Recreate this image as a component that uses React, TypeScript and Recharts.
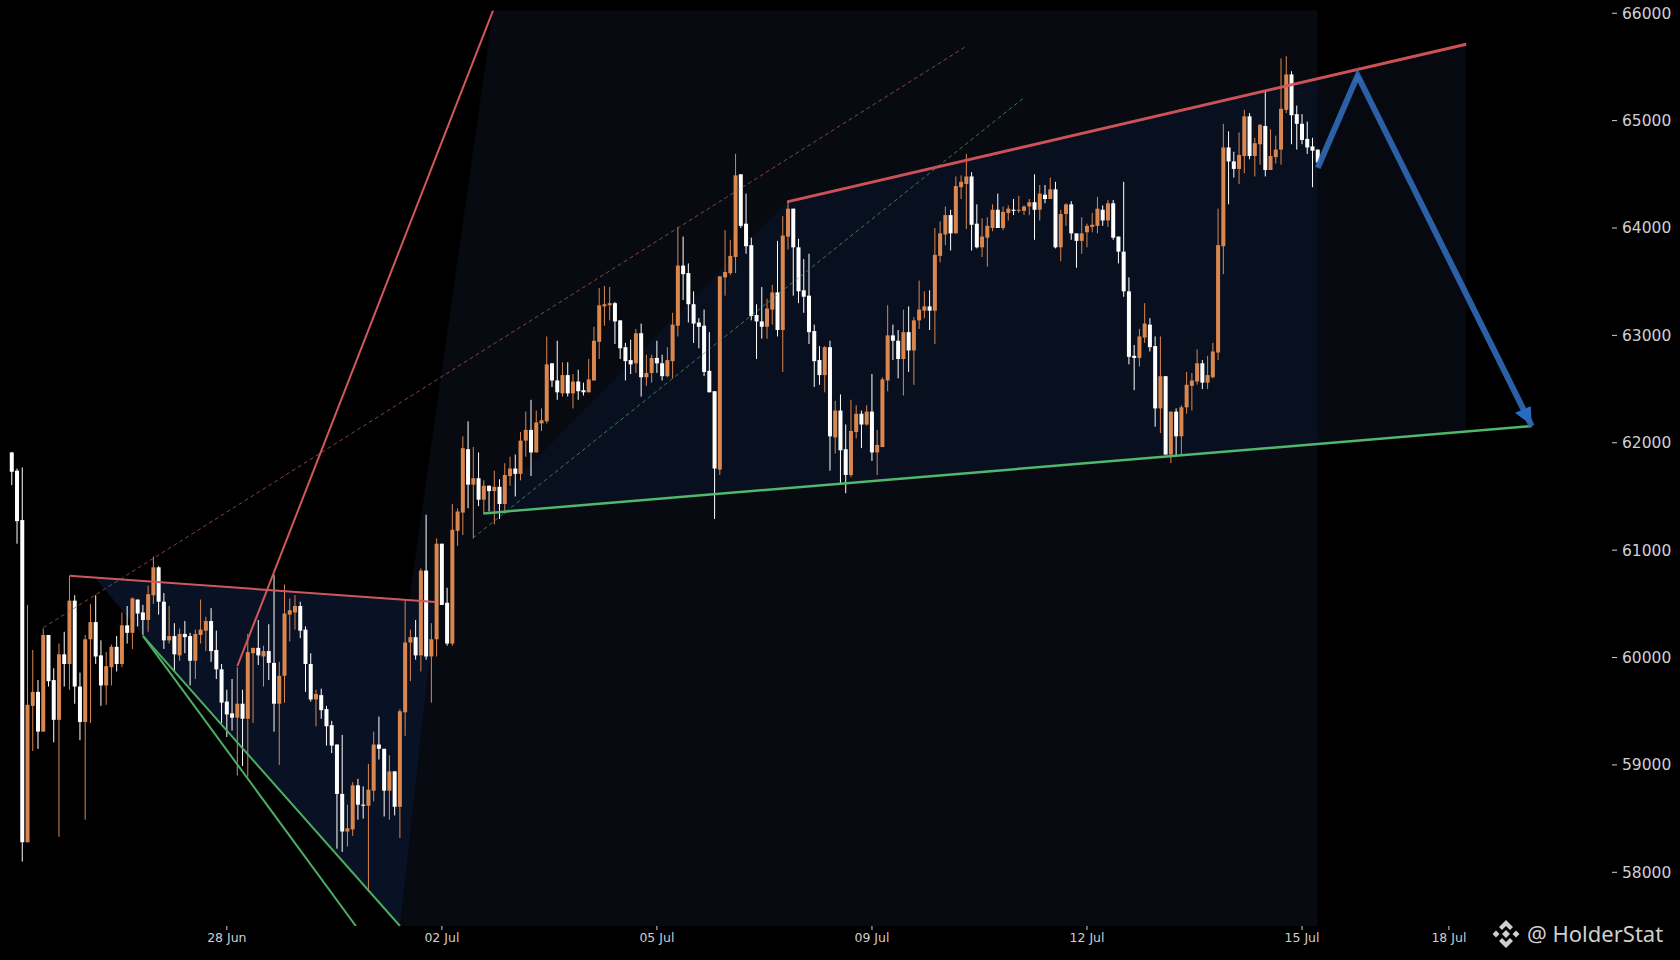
import React from "react";
import { ComposedChart, XAxis, YAxis, Bar, Line, Area } from "recharts";

const OPENS = [
  61910,61740,61280,58280,59550,59680,59310,60210,59790,59420,
  60030,59940,60530,59730,59400,60170,60330,60020,59740,59910,
  60100,59940,60300,60230,60540,60420,60350,60580,60840,60520,
  60160,60200,60020,60220,60200,59970,60210,60250,60340,60070,
  59890,59590,59480,59440,59570,59430,60040,60090,60010,60060,
  59950,59570,59830,60400,60420,60480,60260,59940,59610,59650,
  59520,59370,59190,58730,58380,58400,58810,58630,58620,58760,
  59190,59150,58760,58940,58610,59490,60140,60190,60020,60810,
  60010,60170,61060,60510,60130,61180,61350,61940,61610,61670,
  61470,61600,61550,61590,61430,61690,61760,61710,62020,62120,
  61910,62180,62200,62740,62580,62460,62630,62460,62570,62490,
  62470,62580,62940,63270,63280,63300,63140,62890,62770,62740,
  63020,62610,62650,62790,62740,62620,62760,63090,63650,63580,
  63290,63120,63090,62670,62480,61750,63540,63580,63730,64500,
  64040,63840,63190,63130,63080,63240,63400,63050,63920,64180,
  63820,63420,63370,63040,62770,62630,62890,62050,62300,61940,
  61700,62100,62270,62170,62290,61910,61960,62580,63000,62950,
  62780,63030,62860,63140,63230,63270,63230,63740,63940,64120,
  63950,64380,64410,64480,64040,63820,63910,64000,64170,64000,
  64140,64170,64160,64160,64200,64240,64170,64310,64270,64360,
  63820,64130,64220,63950,63880,63960,64010,64020,64170,64070,
  64230,63920,63780,63410,62810,62790,62980,63100,62900,62320,
  62620,61890,62290,62060,62330,62530,62570,62740,62560,62610,
  62840,63830,64750,64620,64550,64670,65040,64670,64780,64950,
  64540,64660,64730,65100,65430,65060,64970,64830,64760,64730,
];

const HIGHS = [
  61915,61760,61770,60490,60070,59790,60270,60210,59900,60130,
  60240,60760,60580,59860,60210,60500,60580,60160,60050,60120,
  60200,60420,60480,60560,60540,60490,60670,60940,60850,60600,
  60480,60320,60270,60340,60230,60260,60540,60380,60460,60250,
  59940,59700,59800,59910,59700,60220,60090,60350,60110,60310,
  60770,59960,60680,60550,60580,60520,60290,60040,59700,59710,
  59550,59410,59190,59280,58630,58840,58870,58800,59010,59310,
  59450,59150,59090,58940,59520,60530,60260,60350,60830,61330,
  60320,61110,61060,60650,61430,61390,62060,62200,61960,61910,
  61650,61600,61740,61660,61810,61870,61890,62100,62290,62400,
  62300,62320,62990,62740,62950,62750,62750,62640,62680,62560,
  62780,63080,63440,63460,63450,63310,63140,62930,62960,63060,
  63110,62820,62820,62950,62820,62890,63210,64010,63920,63670,
  63410,63160,63240,63030,62480,63550,63980,63890,64690,64500,
  64320,63910,63290,63450,63340,63470,63880,64110,64250,64180,
  63900,63710,63760,63100,62900,62900,62950,62390,62450,62170,
  62400,62350,62300,62350,62640,62120,62610,63280,63100,63050,
  63240,63270,63170,63510,63410,63420,64000,64060,64200,64170,
  64480,64490,64690,64520,64220,64090,64100,64220,64320,64200,
  64210,64270,64300,64210,64270,64500,64400,64400,64470,64430,
  64170,64230,64250,63950,64100,64040,64140,64290,64210,64260,
  64260,63920,64430,63540,62910,63060,63300,63160,62990,62990,
  62620,62290,62320,62350,62660,62650,62870,62770,62810,62930,
  64180,64970,64900,64710,64890,65100,65070,64840,64970,65280,
  64920,64860,65580,65600,65460,65140,65060,64990,64840,64730,
];

const LOWS = [
  61605,61060,58100,58280,59130,59150,59310,59730,59210,58330,
  59730,59700,59570,59230,58490,59390,59940,59550,59560,59740,
  59870,59910,60130,60080,60290,60210,60240,60500,60400,60080,
  60130,59870,59970,60040,59740,59800,60130,60060,59960,59800,
  59390,59260,59320,58900,58990,58890,59390,59930,59730,59790,
  59310,59000,59580,60150,60260,60180,59680,59590,59360,59430,
  59180,59110,58220,58190,58240,58340,58490,58500,57820,58660,
  59050,58520,58490,58530,58320,59270,59780,59980,59870,59980,
  59580,60010,60490,60110,60110,61040,61140,61390,61110,61410,
  61340,61360,61240,61290,61340,61600,61500,61650,61870,61690,
  61910,62110,62180,62520,62400,62430,62430,62320,62400,62440,
  62470,62580,62780,63090,63140,62920,62780,62580,62640,62650,
  62430,62530,62560,62650,62580,62610,62600,62990,63330,63120,
  62930,62880,62620,62470,61290,61700,63370,63560,63580,64000,
  63760,63140,62780,62970,62970,63100,62990,62660,63800,63370,
  63300,63210,62920,62520,62540,62470,61740,61900,61620,61530,
  61680,62040,61950,62160,61830,61700,61960,62480,62770,62600,
  62440,62660,62540,63060,63160,63050,62920,63680,63840,63790,
  63950,64270,63990,63790,63810,63730,63640,63970,64000,63980,
  64070,64120,64140,64120,64120,63890,64070,64230,64270,63810,
  63690,64020,63890,63630,63760,63820,63960,63950,64020,64010,
  63890,63670,63360,62730,62490,62710,62930,62850,62150,62090,
  61890,61810,61880,61890,62270,62300,62540,62500,62500,62600,
  62770,63570,64220,64470,64410,64510,64640,64480,64590,64480,
  64540,64600,64590,65070,64780,64730,64780,64690,64380,64570,
];

const CLOSES = [
  61730,61270,58280,59560,59680,59310,60210,59780,59420,60030,
  59940,60530,59730,59400,60170,60330,60010,59740,59920,60100,
  59940,60300,60230,60550,60410,60350,60590,60840,60520,60160,
  60200,60030,60220,60190,59970,60220,60260,60340,60060,59890,
  59580,59470,59440,59570,59430,60050,60090,60020,60060,59950,
  59570,59830,60410,60440,60480,60250,59940,59610,59660,59510,
  59360,59180,58730,58380,58410,58810,58630,58620,58770,59190,
  59150,58760,58940,58610,59500,60140,60190,60020,60810,60010,
  60170,61060,60490,60130,61190,61360,61950,61610,61670,61470,
  61600,61550,61590,61430,61700,61760,61710,62020,62120,61910,
  62190,62210,62730,62580,62470,62630,62460,62570,62480,62470,
  62590,62950,63280,63290,63300,63130,62880,62760,62730,63020,
  62610,62650,62790,62740,62620,62770,63100,63650,63570,63290,
  63110,63080,62660,62470,61760,63550,63590,63740,64490,64020,
  63830,63180,63130,63080,63250,63400,63050,63930,64180,63820,
  63410,63360,63030,62760,62630,62890,62060,62300,61930,61700,
  62110,62270,62170,62290,61910,61980,62590,63000,62950,62780,
  63030,62860,63140,63240,63270,63230,63750,63950,64120,63950,
  64390,64430,64480,64030,63820,63920,64020,64170,64000,64150,
  64180,64160,64170,64200,64240,64170,64320,64270,64360,63820,
  64130,64220,63950,63880,63950,64020,64030,64180,64070,64230,
  63910,63780,63410,62800,62790,62990,63110,62890,62320,62620,
  61890,62290,62060,62330,62540,62580,62740,62560,62630,62850,
  63840,64750,64620,64550,64680,65040,64670,64790,64960,64540,
  64670,64730,65110,65430,65050,64970,64820,64750,64720,64610,
];

const TICK_INDEX = [41, 82, 123, 164, 205, 246, 274];
const TICK_LABELS = ["28 Jun", "02 Jul", "05 Jul", "09 Jul", "12 Jul", "15 Jul", "18 Jul"];
const PRICE_TICKS = [58000, 59000, 60000, 61000, 62000, 63000, 64000, 65000, 66000];

// trend lines, as [candle index, price]
const STEEP_RED = [[43, 59920], [91.75, 66025]];
const WEDGE_TOP = [[11, 60761], [80.8, 60518]];
const WEDGE_LOW_A = [[25, 60202], [74, 57500]];
const WEDGE_LOW_B = [[25, 60202], [65.6, 57500]];
const DASH_RED = [[6, 60278], [182.1, 65696]];
const DASH_GREEN = [[87.9, 61112], [192.8, 65206]];
const CHANNEL_TOP = [[147.8, 64243], [277.3, 65711]];
const CHANNEL_LOW = [[89.9, 61342], [289.8, 62155]];
const FORECAST = [[249, 64560], [256.6, 65420], [289.8, 62155]];

// shaded zones, as [candle index, lower price, upper price]
const PANE_ZONE = [[43, 59920, 59920], [74, 57500, 59920], [91.75, 57500, 66028], [249, 57500, 66028]];
const WEDGE_ZONE = [[15.9, 60744, 60744], [25, 60202, 60712], [74, 57500, 60542], [80.8, 60518, 60518]];
const CHANNEL_ZONE = [[89.9, 61342, 61342], [147.8, 61577, 64243], [249, 61989, 65390]];
const CHANNEL_ZONE_FAR = [[249, 61989, 65390], [277.3, 62104, 65711]];
const TIP_HEAD = [[286.6, 62280, 62280], [289.6, 62170, 62340], [289.8, 62155, 62155]];
const PEAK_HEAD = [[255.7, 65362, 65362], [256.6, 65362, 65440], [257.7, 65362, 65362]];

const ORANGE = "#d9864f";
const WHITE = "#ffffff";

const candles = OPENS.map((open, i) => ({
  x: i,
  open,
  high: HIGHS[i],
  low: LOWS[i],
  close: CLOSES[i],
}));

const toLine = (pts: number[][]) => pts.map(([x, y]) => ({ x, y }));
const toZone = (pts: number[][]) => pts.map(([x, lo, hi]) => ({ x, band: [lo, hi] }));

const Candle = (props: any) => {
  const { x, y, width, height, payload } = props;
  const { open, high, low, close } = payload;
  const color = close < open ? WHITE : ORANGE;
  const cx = x + width / 2;
  const ppu = height / (high - low);
  const top = y + (high - Math.max(open, close)) * ppu;
  const bottom = y + (high - Math.min(open, close)) * ppu;
  return (
    <g>
      <line x1={cx} x2={cx} y1={y} y2={y + height} stroke={color} strokeWidth={1} />
      <rect x={cx - 2} y={top} width={4} height={Math.max(bottom - top, 1)} fill={color} />
    </g>
  );
};

const zone = (name: string, pts: number[][], fill: string) => (
  <Area
    key={name}
    data={toZone(pts)}
    dataKey="band"
    type="linear"
    stroke="none"
    fill={fill}
    fillOpacity={1}
    dot={false}
    activeDot={false}
    isAnimationActive={false}
  />
);

const trend = (name: string, pts: number[][], stroke: string, width: number, dash?: string, opacity = 1) => (
  <Line
    key={name}
    data={toLine(pts)}
    dataKey="y"
    type="linear"
    stroke={stroke}
    strokeWidth={width}
    strokeDasharray={dash}
    strokeOpacity={opacity}
    dot={false}
    activeDot={false}
    isAnimationActive={false}
  />
);

const Logo = () => (
  <svg width={30} height={30} viewBox="0 0 30 30" style={{ position: "absolute", left: 1491, top: 919 }}>
    <path
      fill="#cfcfcf"
      d="M15 1 L22 8 L19 11 L15 7 L11 11 L8 8 Z M15 29 L22 22 L19 19 L15 23 L11 19 L8 22 Z M15 11 L19 15 L15 19 L11 15 Z M5 11.5 L8.500 15 L5 18.500 L1.500 15 Z M25 11.500 L28.500 15 L25 18.500 L21.500 15 Z"
    />
  </svg>
);

export default function App() {
  return (
    <div style={{ position: "absolute", left: 0, top: 0, width: 1680, height: 960, background: "#000", overflow: "hidden" }}>
      <ComposedChart
        width={1680}
        height={960}
        data={candles}
        margin={{ top: 10, right: 0, bottom: 0, left: 0 }}
      >
        <XAxis
          dataKey="x"
          type="number"
          domain={[-2.25, 305.1]}
          allowDataOverflow
          ticks={TICK_INDEX}
          interval={0}
          height={34}
          axisLine={false}
          tickSize={4}
          tickLine={{ stroke: "#d0d0d0" }}
          tickMargin={3}
          tickFormatter={(v: number) => TICK_LABELS[TICK_INDEX.indexOf(v)]}
          tick={{ fill: "#cfcfcf", fontSize: 12.5, fontFamily: "DejaVu Sans" }}
        />
        <YAxis
          orientation="right"
          type="number"
          domain={[57500, 66030]}
          allowDataOverflow
          ticks={PRICE_TICKS}
          interval={0}
          width={68}
          axisLine={false}
          tickSize={5}
          tickLine={{ stroke: "#d0d0d0" }}
          tickMargin={5}
          tick={{ fill: "#cfcfcf", fontSize: 15.5, fontFamily: "DejaVu Sans", textAnchor: "start" }}
        />
        {zone("pane", PANE_ZONE, "#070a11")}
        {zone("channelFar", CHANNEL_ZONE_FAR, "#060910")}
        {zone("channel", CHANNEL_ZONE, "#081020")}
        {zone("wedge", WEDGE_ZONE, "#091224")}
        <Bar
          dataKey={(d: any) => [d.low, d.high]}
          barSize={4}
          shape={<Candle />}
          isAnimationActive={false}
        />
        {trend("dashRed", DASH_RED, "#b0585a", 1, "4 3", 0.75)}
        {trend("dashGreen", DASH_GREEN, "#4f9a6a", 1, "4 3", 0.75)}
        {trend("steep", STEEP_RED, "#d0585c", 2)}
        {trend("wedgeTop", WEDGE_TOP, "#d0585c", 2)}
        {trend("wedgeLowA", WEDGE_LOW_A, "#4cae62", 2)}
        {trend("wedgeLowB", WEDGE_LOW_B, "#4cae62", 2)}
        {trend("channelTop", CHANNEL_TOP, "#d8565c", 3, undefined, 0.95)}
        {trend("channelLow", CHANNEL_LOW, "#4fb86c", 2.500)}
        {trend("forecast", FORECAST, "#2f68b4", 6, undefined, 0.92)}
        {zone("tipHead", TIP_HEAD, "#1f6fd0")}
        {zone("peakHead", PEAK_HEAD, "#3f7cc8")}
      </ComposedChart>
      <Logo />
      <div
        style={{
          position: "absolute",
          left: 1527,
          top: 917,
          color: "#cfcfcf",
          fontFamily: "Noto Sans",
          fontSize: 22,
          whiteSpace: "nowrap",
          lineHeight: "32px",
        }}
      >
        @ HolderStat
      </div>
    </div>
  );
}
